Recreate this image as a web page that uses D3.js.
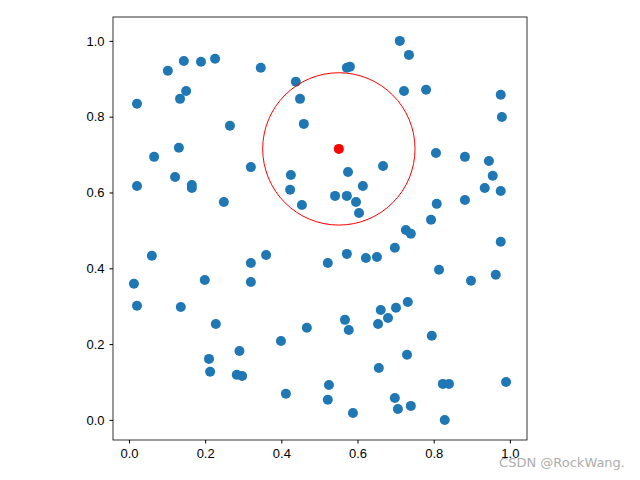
<!DOCTYPE html>
<html><head><meta charset="utf-8">
<script src="https://cdn.jsdelivr.net/npm/d3@7"></script>
<style>body{margin:0;background:#fff}svg{font-family:"DejaVu Sans",sans-serif}</style>
</head><body><svg width="640" height="480"></svg>
<script>
const xs = [.021,.021,.021,.013,.066,.060,.102,.144,.134,.131,.121,.136,.150,.165,.165,.189,.226,.199,.210,.213,.228,.249,.265,.283,.297,.346,.290,.320,.320,.320,.360,.399,.412,.438,.449,.459,.425,.423,.454,.467,.522,.525,.522,.541,.575,.572,.572,.567,.577,.572,.580,.588,.596,.604,.614,.622,.651,.667,.661,.654,.680,.656,.701,.698,.698,.706,.711,.735,.722,.727,.740,.732,.730,.740,.780,.793,.795,.806,.808,.814,.824,.829,.840,.882,.882,.898,.934,.945,.955,.963,.976,.979,.976,.976,.990];
const ys = [.834,.617,.301,.359,.694,.433,.921,.947,.847,.718,.641,.298,.868,.620,.612,.945,.953,.369,.161,.127,.253,.575,.776,.119,.116,.929,.182,.414,.364,.667,.435,.208,.069,.892,.847,.781,.646,.607,.567,.243,.414,.092,.053,.591,.654,.591,.438,.264,.237,.929,.932,.018,.575,.546,.617,.427,.430,.670,.290,.253,.269,.137,.296,.454,.058,.029,1.0,.963,.868,.501,.491,.311,.172,.037,.871,.528,.222,.704,.570,.396,.095,.0,.095,.694,.580,.367,.612,.683,.644,.383,.858,.799,.604,.470,.100];
const center = [0.551, 0.715], radius = 0.2;
const xTicks = [0, .2, .4, .6, .8, 1], yTicks = [0, .2, .4, .6, .8, 1];

const svg = d3.select("svg");
const L = 113, R = 527, T = 17, B = 440;
const x = d3.scaleLinear().domain([-0.042, 1.045]).range([L, R]);
const y = d3.scaleLinear().domain([-0.053, 1.063]).range([B, T]);

svg.selectAll(".pt").data(xs).join("circle")
  .attr("cx", (d, i) => x(d)).attr("cy", (d, i) => y(ys[i])).attr("r", 5).attr("fill", "#1f77b4");
svg.append("circle").attr("cx", x(center[0])).attr("cy", y(center[1]))
  .attr("r", x(radius) - x(0)).attr("fill", "none").attr("stroke", "red");
svg.append("circle").attr("cx", x(center[0])).attr("cy", y(center[1])).attr("r", 5).attr("fill", "red");

const fmt = d3.format(".1f");
const gx = svg.append("g").attr("transform", `translate(0,${B})`)
  .call(d3.axisBottom(x).tickValues(xTicks).tickFormat(fmt).tickSizeOuter(0).tickSize(3.5).tickPadding(5));
const gy = svg.append("g").attr("transform", `translate(${L},0)`)
  .call(d3.axisLeft(y).tickValues(yTicks).tickFormat(fmt).tickSizeOuter(0).tickSize(3.5).tickPadding(5));
[gx, gy].forEach(g => { g.select(".domain").remove(); g.selectAll("text").attr("font-size", 13).attr("fill", "#000"); g.selectAll("line").attr("stroke", "#000"); });
svg.append("rect").attr("x", L).attr("y", T).attr("width", R - L).attr("height", B - T)
  .attr("fill", "none").attr("stroke", "#000").attr("stroke-width", 0.8);
svg.append("text").attr("x", 625).attr("y", 467).attr("text-anchor", "end")
  .attr("font-size", 13).attr("fill", "#999").attr("opacity", 0.8).text("CSDN @RockWang.");
</script></body></html>
